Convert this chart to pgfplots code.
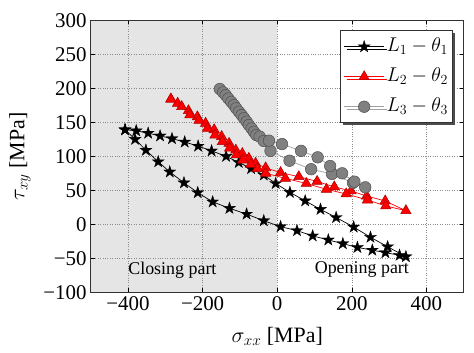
\RequirePackage{fix-cm}
\documentclass[border=0pt]{standalone}
\usepackage{fontspec}
\setmainfont{Liberation Serif}
\usepackage{pgfplots}
\pgfplotsset{compat=1.18}
\usetikzlibrary{shadows}
\definecolor{shade}{RGB}{229,229,229}
\definecolor{cgray}{RGB}{128,128,128}
\definecolor{cgrayedge}{RGB}{80,80,80}
\definecolor{lgray}{RGB}{160,160,160}
\definecolor{tred}{RGB}{255,0,0}
\definecolor{tredge}{RGB}{170,0,0}
\newcommand{\lstrut}{\rule[-7bp]{0pt}{24bp}}
\pgfdeclareplotmark{fstar}{%
  \pgfpathmoveto{\pgfpointpolar{90}{\pgfplotmarksize}}%
  \pgfpathlineto{\pgfpointpolar{126}{0.382\pgfplotmarksize}}%
  \pgfpathlineto{\pgfpointpolar{162}{\pgfplotmarksize}}%
  \pgfpathlineto{\pgfpointpolar{198}{0.382\pgfplotmarksize}}%
  \pgfpathlineto{\pgfpointpolar{234}{\pgfplotmarksize}}%
  \pgfpathlineto{\pgfpointpolar{270}{0.382\pgfplotmarksize}}%
  \pgfpathlineto{\pgfpointpolar{306}{\pgfplotmarksize}}%
  \pgfpathlineto{\pgfpointpolar{342}{0.382\pgfplotmarksize}}%
  \pgfpathlineto{\pgfpointpolar{18}{\pgfplotmarksize}}%
  \pgfpathlineto{\pgfpointpolar{54}{0.382\pgfplotmarksize}}%
  \pgfpathclose
  \pgfusepathqfillstroke}
\begin{document}
\begin{tikzpicture}
\begin{axis}[
  at={(90.7bp,60.7bp)}, anchor=south west,
  scale only axis, width=373bp, height=272bp,
  set layers,
  xmin=-500, xmax=500, ymin=-100, ymax=300,
  xtick={-400,-200,0,200,400},
  xticklabels={−400,−200,0,200,400},
  ytick={-100,-50,0,50,100,150,200,250,300},
  yticklabels={−100,−50,0,50,100,150,200,250,300},
  tick align=inside, tick pos=both,
  major tick length=4bp,
  tick style={black, line width=0.6bp},
  axis line style={black!80, line width=0.8bp},
  grid=major,
  major grid style={black!45, dotted, line width=0.6bp},
  tick label style={font=\fontsize{21}{24}\selectfont},
  xticklabel style={inner sep=1bp, yshift=-3bp},
  yticklabel style={inner sep=1bp, xshift=-3bp},
  label style={font=\fontsize{22}{26}\selectfont},
  xlabel={$\sigma_{xx}$ [MPa]},
  ylabel={$\tau_{xy}$ [MPa]},
  xlabel style={at={(axis description cs:0.5,-0.161)}, anchor=center},
  ylabel style={at={(axis description cs:-0.19,0.5)}, anchor=center},
  legend style={at={(axis description cs:0.972,0.963)}, anchor=north east,
    font=\fontsize{20}{23}\selectfont, draw=black!80, fill=white,
    line width=0.8bp,
    drop shadow={shadow xshift=2.5bp, shadow yshift=-2.5bp, fill=black!70, opacity=1},
    inner xsep=3bp, inner ysep=2bp, row sep=2bp,
    nodes={inner sep=2pt, text depth=7bp},
    /tikz/every even column/.append style={column sep=9bp}},
  legend cell align=left,
  legend image code/.code={%
    \draw[#1, mark repeat=2, mark phase=2] plot coordinates {(0bp,0bp) (20bp,0bp) (40bp,0bp)};},
]
\addplot[on layer=axis background, fill=shade, draw=none, forget plot]
  coordinates {(-500,-100) (0,-100) (0,300) (-500,300)} \closedcycle;

\addplot[black, line width=0.7bp, mark=fstar, mark size=6.3bp,
  mark options={fill=black, draw=black, line width=0.3bp}] coordinates {
(-408,139) (-378,137.5) (-346,134) (-314,130) (-282,126) (-248,121) (-212,115)
(-176,108) (-137,100) (-103,91) (-70,82) (-36,72.5) (-4,60) (34,47) (75,34.5)
(116,22) (158,10) (205,-4) (250,-19) (296,-33) (345,-47.6) (328,-45.5)
(290,-41.7) (255,-38) (215,-34) (176,-28.5) (137,-23) (95,-17) (53,-9.3)
(9,-3.5) (-36,5.3) (-82,15) (-128,23.5) (-173,33) (-213,46.5) (-250,61)
(-288,77) (-319,92) (-352,109) (-381,125) (-408,139)};
\addlegendentry{\lstrut$L_1-\theta_1$}

\addplot[tred, line width=0.7bp, mark=triangle*, mark size=6bp,
  mark options={fill=tred, draw=tredge, line width=0.5bp}] coordinates {
(-285,184) (-267,178) (-238,167) (-214,158) (-192,148.5) (-169,139) (-149,129)
(-129,119) (-111,109) (-93.5,104) (-76,97) (-58,89.7) (-31,83) (9,76) (58,70)
(107,63) (153,55) (198,49) (240,41.6) (289.5,34.3) (345,20)
(291,27) (242,35.7) (185,44.6) (132,51.5) (78,60) (22,67.6) (-31,75) (-53,82)
(-71,88) (-92,94.5) (-109.6,102) (-127.5,112) (-147,121.5) (-167,131) (-187,141)
(-209.5,153) (-234,161) (-256,173) (-285,184)};
\addlegendentry{\lstrut$L_2-\theta_2$}

\addplot[lgray, line width=0.7bp, mark=*, mark size=5.8bp,
  mark options={fill=cgray, draw=cgrayedge, line width=0.5bp}] coordinates {
(-154,199) (-145,194) (-138,190) (-131,185) (-123,180) (-116,175.4) (-110,170.6)
(-102.6,165.6) (-95.4,160.7) (-89,156) (-82,151) (-76,146) (-68.7,141)
(-62.5,136) (-56,131.3) (-47,129) (-36,122.5) (-18,108) (33,93.5) (91,81)
(147,74) (203,61) (236,54.4) (207,62.7) (174,75) (142,85.7) (108.5,98.5)
(64,108) (13,118) (-22,123)};
\addlegendentry{\lstrut$L_3-\theta_3$}

\node[font=\fontsize{18}{21}\selectfont] at (axis cs:-281,-67) {Closing part};
\node[font=\fontsize{18}{21}\selectfont] at (axis cs:227,-67) {Opening part};
\end{axis}
\pgfresetboundingbox
\useasboundingbox (0,0) rectangle (474bp,353bp);
\end{tikzpicture}
\end{document}
